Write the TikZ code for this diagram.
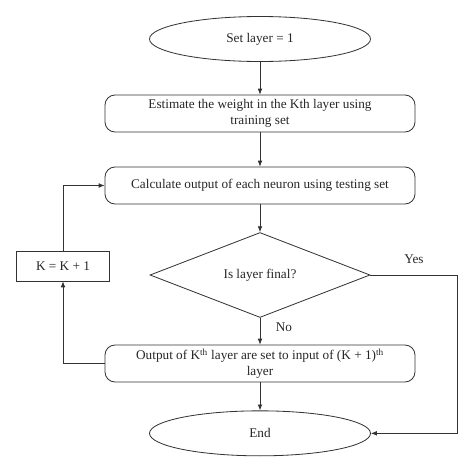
\documentclass[tikz,border=0pt]{standalone}
\usepackage{fontspec}
\setmainfont{Liberation Serif}
\usetikzlibrary{shapes.geometric,arrows.meta}
\tikzset{
  flowline/.style={draw=black!80, line width=0.7pt},
  flowarrow/.style={flowline, -{Latex[length=5pt,width=4pt]}},
  termnode/.style={ellipse, draw=black!80, line width=0.7pt, minimum width=6.63cm, minimum height=1.35cm, inner sep=0pt},
  procnode/.style={rectangle, rounded corners=0.3cm, draw=black!80, line width=0.7pt, minimum width=9.3cm, minimum height=1.11cm, align=center, inner sep=0pt},
  decnode/.style={diamond, draw=black!80, line width=0.7pt, minimum width=6.6cm, minimum height=2.22cm, inner sep=0pt},
  incnode/.style={rectangle, draw=black!80, line width=0.7pt, minimum width=2.79cm, minimum height=0.9cm, inner sep=0pt}
}
\begin{document}
\begin{tikzpicture}[font=\fontsize{11.3pt}{13.5pt}\selectfont, text=black!85]
    \useasboundingbox (0, 0) rectangle (14.22, -14.22);
    \node [termnode] (start) at (7.8, -1.17) {Set layer = 1};
    \node [procnode] (est) at (7.8, -3.405) {Estimate the weight in the Kth layer using\\ training set};
    \node [procnode] (calc) at (7.8, -5.565) {Calculate output of each neuron using testing set};
    \node [decnode] (dec) at (7.8, -8.25) {Is layer final?};
    \node [incnode] (kinc) at (1.89, -7.98) {K = K + 1};
    \node [procnode] (outk) at (7.8, -10.905) {Output of K\textsuperscript{th} layer are set to input of (K + 1)\textsuperscript{th}\\ layer};
    \node [termnode] (end) at (7.8, -13.0) {End};
    \coordinate (yc) at (13.71, -8.25);
    \draw [flowarrow] (start) -- (est);
    \draw [flowarrow] (est) -- (calc);
    \draw [flowarrow] (calc) -- (dec);
    \draw [flowarrow] (dec) -- (outk);
    \draw [flowarrow] (outk) -- (end);
    \draw [flowarrow] (dec.east) -- (yc) |- (end.east);
    \draw [flowarrow] (outk.west) -| (kinc.south);
    \draw [flowarrow] (kinc.north) |- (calc.west);
    \node (yes) at (12.42, -7.77) {Yes};
    \node (no) at (8.52, -9.81) {No};
\end{tikzpicture}
\end{document}
